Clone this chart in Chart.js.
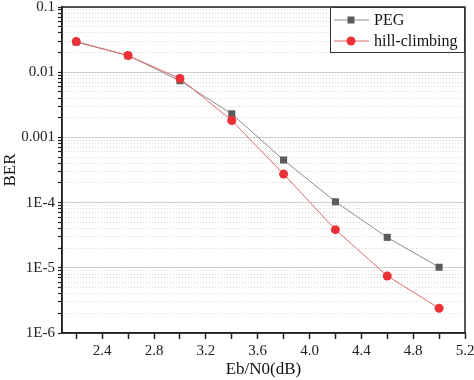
<!DOCTYPE html>
<html>
<head>
<meta charset="utf-8">
<script src="https://cdn.jsdelivr.net/npm/chart.js@4.4.1/dist/chart.umd.min.js"></script>
<style>
  html, body { margin: 0; padding: 0; background: #ffffff; }
  #wrap { width: 474px; height: 380px; position: relative; }
</style>
</head>
<body>
<div id="wrap"><canvas id="c" width="474" height="380"></canvas></div>
<script>
// ---- data ----
const ebn0 = [2.2, 2.6, 3.0, 3.4, 3.8, 4.2, 4.6, 5.0];
const berPEG = [0.029, 0.018, 0.0074, 0.0023, 0.00045, 0.000103, 0.0000293, 0.0000102];
const berHill = [0.0295, 0.018, 0.0080, 0.00182, 0.000274, 0.0000385, 0.0000075, 0.0000024];
const seriesNames = ['PEG', 'hill-climbing'];
const yTickValues = [1e-1, 1e-2, 1e-3, 1e-4, 1e-5, 1e-6];
const yTickLabels = ['0.1', '0.01', '0.001', '1E-4', '1E-5', '1E-6'];
const xTickValues = [2.2, 2.4, 2.6, 2.8, 3.0, 3.2, 3.4, 3.6, 3.8, 4.0, 4.2, 4.4, 4.6, 4.8, 5.0, 5.2];
const xTickLabels = ['', '2.4', '', '2.8', '', '3.2', '', '3.6', '', '4.0', '', '4.4', '', '4.8', '', '5.2'];
const xTitle = 'Eb/N0(dB)';
const yTitle = 'BER';

const FONT = "'Liberation Serif', 'Times New Roman', serif";
const colPEGLine = '#8c8c8c', colPEGPt = '#5c5c5c';
const colHillLine = '#e06a6a', colHillPt = '#ec3137';

// minor log ticks (2..9 x decade) built from decade list
const decades = yTickValues.slice().sort((a, b) => a - b);
const allYTicks = [];
decades.forEach((d, i) => {
  allYTicks.push(d);
  if (i < decades.length - 1) for (let k = 2; k <= 9; k++) allYTicks.push(+(k * d).toPrecision(3));
});
const minorYTicks = allYTicks.filter(v => !decades.some(d => Math.abs(v - d) / d < 1e-6));
function decadeLabel(v) {
  const i = yTickValues.findIndex(d => Math.abs(v - d) / d < 1e-6);
  return i >= 0 ? yTickLabels[i] : '';
}
function isDecade(v) { return decadeLabel(v) !== ''; }

const frame = {
  id: 'frame',
  afterDatasetsDraw(chart) {
    const { ctx, chartArea: a } = chart;
    ctx.save();
    ctx.strokeStyle = '#222';
    ctx.lineWidth = 1.5;
    ctx.strokeRect(a.left, a.top, a.right - a.left, a.bottom - a.top);
    // legend box
    const w = 135, h = 45;
    const x0 = a.right - w, y0 = a.top;
    ctx.fillStyle = '#fff';
    ctx.fillRect(x0, y0, w, h);
    ctx.lineWidth = 1;
    ctx.strokeStyle = '#333';
    ctx.strokeRect(x0 + 0.5, y0 + 0.5, w - 1, h);
    const items = [
      { name: seriesNames[0], line: colPEGLine, pt: colPEGPt, style: 'rect', r: 5 },
      { name: seriesNames[1], line: colHillLine, pt: colHillPt, style: 'circle', r: 4.5 }
    ];
    ctx.font = '16px ' + FONT;
    ctx.textBaseline = 'middle';
    items.forEach((it, i) => {
      const cy = y0 + 13 + i * 21;
      ctx.strokeStyle = it.line;
      ctx.lineWidth = 1;
      ctx.beginPath();
      ctx.moveTo(x0 + 4, cy); ctx.lineTo(x0 + 39, cy); ctx.stroke();
      ctx.fillStyle = it.pt;
      ctx.beginPath();
      if (it.style === 'rect') ctx.rect(x0 + 21 - 3.5, cy - 3.5, 7, 7);
      else ctx.arc(x0 + 21, cy, it.r, 0, Math.PI * 2);
      ctx.fill();
      ctx.fillStyle = '#111';
      ctx.textAlign = 'left';
      ctx.fillText(it.name, x0 + 44, cy + 1);
    });
    ctx.restore();
  }
};

new Chart(document.getElementById('c'), {
  type: 'scatter',
  data: {
    datasets: [
      {
        label: seriesNames[0],
        data: ebn0.map((x, i) => ({ x, y: berPEG[i] })),
        showLine: true,
        borderColor: colPEGLine,
        borderWidth: 1,
        pointStyle: 'rect',
        pointRadius: 5,
        pointBackgroundColor: colPEGPt,
        pointBorderWidth: 0,
        order: 2
      },
      {
        label: seriesNames[1],
        data: ebn0.map((x, i) => ({ x, y: berHill[i] })),
        showLine: true,
        borderColor: colHillLine,
        borderWidth: 1,
        pointStyle: 'circle',
        pointRadius: 4.5,
        pointBackgroundColor: colHillPt,
        pointBorderWidth: 0,
        order: 1
      }
    ]
  },
  options: {
    responsive: false,
    animation: false,
    layout: { padding: { left: 0, right: 9, top: 7, bottom: 0 } },
    plugins: { legend: { display: false }, tooltip: { enabled: false } },
    scales: {
      x: {
        type: 'linear',
        min: 2.09,
        max: 5.2,
        afterBuildTicks: s => { s.ticks = xTickValues.map(v => ({ value: v })); },
        afterFit: s => { s.height = 47; s.paddingRight = 0; s.paddingLeft = 0; },
        ticks: {
          autoSkip: false,
          maxRotation: 0,
          padding: 3,
          color: '#222',
          font: { family: FONT, size: 15 },
          callback: (v, i) => xTickLabels[i]
        },
        grid: {
          drawOnChartArea: false,
          drawTicks: true,
          tickLength: 6,
          tickColor: '#222',
          tickWidth: 1.5
        },
        border: { color: '#222', width: 1.5 },
        title: {
          display: true,
          text: xTitle,
          color: '#111',
          font: { family: FONT, size: 17 },
          padding: { top: 0, bottom: 0 }
        }
      },
      y: {
        type: 'logarithmic',
        position: 'left',
        min: 1e-6,
        max: 1e-1,
        afterBuildTicks: s => { s.ticks = allYTicks.map(v => ({ value: v })); },
        afterFit: s => { s.width = 62; s.paddingTop = 0; s.paddingBottom = 0; },
        ticks: {
          autoSkip: false,
          padding: 3,
          color: '#222',
          font: { family: FONT, size: 15 },
          callback: v => decadeLabel(v)
        },
        grid: {
          drawOnChartArea: true,
          color: ctx => (ctx.tick && isDecade(ctx.tick.value)) ? '#cfcfcf' : 'rgba(0,0,0,0)',
          lineWidth: 1,
          tickLength: 4,
          tickColor: '#222',
          tickWidth: 1.2
        },
        border: { color: '#222', width: 1.5 },
        title: {
          display: true,
          text: yTitle,
          color: '#111',
          font: { family: FONT, size: 17 },
          padding: { top: 0, bottom: 2 }
        }
      },
      yMinor: {
        type: 'logarithmic',
        position: 'right',
        min: 1e-6,
        max: 1e-1,
        afterBuildTicks: s => { s.ticks = minorYTicks.map(v => ({ value: v })); },
        afterFit: s => { s.width = 0; s.paddingTop = 0; s.paddingBottom = 0; },
        ticks: { display: false },
        grid: {
          drawOnChartArea: true,
          drawTicks: false,
          color: '#d6d6d6',
          lineWidth: 1
        },
        border: { display: false, dash: [1, 2] }
      }
    }
  },
  plugins: [frame]
});
</script>
</body>
</html>
